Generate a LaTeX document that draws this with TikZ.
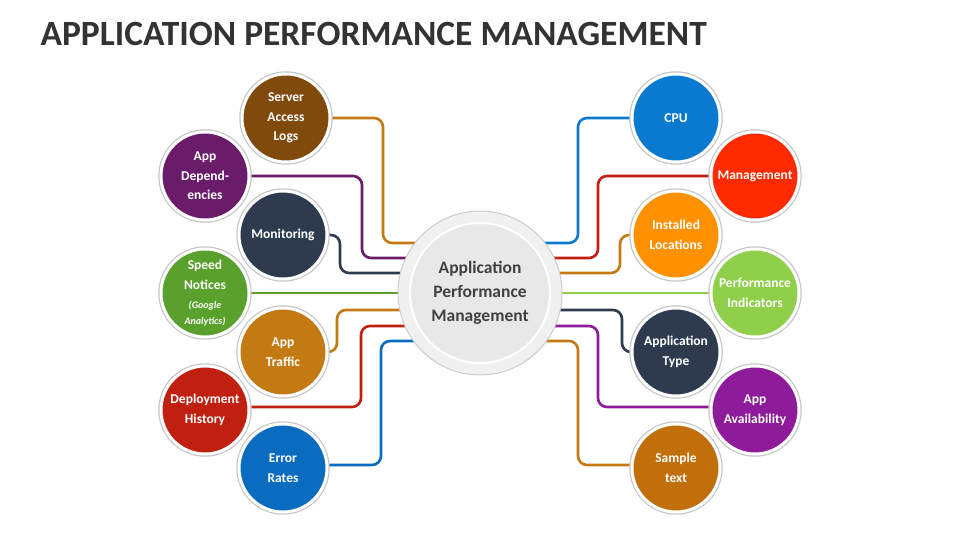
\documentclass[tikz,border=0pt]{standalone}
\usepackage{fontspec}
\setmainfont{Carlito}
\begin{document}
\begin{tikzpicture}[x=1pt,y=-1pt,
  bub/.style={circle,minimum size=88pt,inner sep=0pt,fill=#1,draw=white,line width=3pt,
    preaction={draw=gray!45,line width=5.5pt},text=white,align=center,
    font=\bfseries\fontsize{13.5}{19.5}\selectfont},
  con/.style={line width=2.6pt,rounded corners=9pt,draw=#1}]
\useasboundingbox (0,0) rectangle (960,540);
\definecolor{cBrown}{HTML}{7F4A0C}
\definecolor{cPurple}{HTML}{6A1B6A}
\definecolor{cSlate}{HTML}{2E3B4E}
\definecolor{cGreen}{HTML}{5AA02C}
\definecolor{cOrange}{HTML}{C47A12}
\definecolor{cRed}{HTML}{C0200F}
\definecolor{cBlue}{HTML}{0A6CBF}
\definecolor{cBlueR}{HTML}{0A7AD0}
\definecolor{cRedR}{HTML}{FF2A00}
\definecolor{cOrangeR}{HTML}{FF9000}
\definecolor{cLGreen}{HTML}{8FCF4A}
\definecolor{cPurpleR}{HTML}{8E1C9A}
\definecolor{cSample}{HTML}{C06F0A}
\node[anchor=base west,text=black!80,font=\bfseries\fontsize{35.5}{38}\selectfont] (title) at (37,46) {APPLICATION PERFORMANCE MANAGEMENT};
% connectors
\coordinate (c0) at (480,293);
\draw[con=cOrange] (286,118) -| (383,243) -- (480,243);
\draw[con=cPurple] (205,176) -| (362,258) -- (480,258);
\draw[con=cSlate] (283,235) -| (340,273) -- (480,273);
\draw[con=cGreen] (205,293) -- (c0);
\draw[con=cOrange] (283,352) -| (337,310) -- (480,310);
\draw[con=cRed] (205,407) -| (361,326) -- (480,326);
\draw[con=cBlue] (283,465) -| (381,341) -- (480,341);
\draw[con=cBlueR] (676,118) -| (578,243) -- (480,243);
\draw[con=cRed] (755,176) -| (598,258) -- (480,258);
\draw[con=cOrange] (676,235) -| (620,273) -- (480,273);
\draw[con=cLGreen] (755,293) -- (c0);
\draw[con=cSlate] (676,352) -| (622,310) -- (480,310);
\draw[con=cPurpleR] (755,407) -| (598,326) -- (480,326);
\draw[con=cOrange] (676,465) -| (578,341) -- (480,341);
% center
\node[circle,minimum size=164pt,fill=gray!12,draw=gray!40,line width=1pt] (c) at (c0) {};
\node[circle,minimum size=140pt,fill=gray!18,draw=white,line width=2pt,text=black!75,align=center,
  font=\bfseries\fontsize{17.5}{24}\selectfont] (ct) at (c0) {Application\\Performance\\Management};
% left bubbles
\node[bub=cBrown] (sal) at (286,118) {Server\\Access\\Logs};
\node[bub=cPurple] (dep) at (205,176) {App\\Depend-\\encies};
\node[bub=cSlate] (mon) at (283,235) {Monitoring};
\node[bub=cGreen] (spd) at (205,293) {Speed\\Notices\\{\fontsize{10}{13}\selectfont\itshape(Google}\\[-4pt]{\fontsize{10}{13}\selectfont\itshape Analytics)}};
\node[bub=cOrange] (trf) at (283,352) {App\\Traffic};
\node[bub=cRed] (dh) at (205,410) {Deployment\\History};
\node[bub=cBlue] (err) at (283,468) {Error\\Rates};
% right bubbles
\node[bub=cBlueR] (cpu) at (676,118) {CPU};
\node[bub=cRedR] (mgt) at (755,176) {Management};
\node[bub=cOrangeR] (inl) at (676,235) {Installed\\Locations};
\node[bub=cLGreen] (pi) at (755,293) {Performance\\Indicators};
\node[bub=cSlate] (at) at (676,352) {Application\\Type};
\node[bub=cPurpleR] (av) at (755,410) {App\\Availability};
\node[bub=cSample] (st) at (676,468) {Sample\\text};
\end{tikzpicture}
\end{document}
